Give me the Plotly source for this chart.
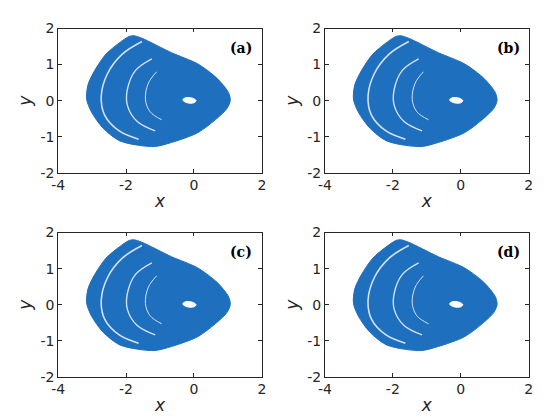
import plotly.graph_objects as go

# attractor outline
bx = [-1.91, -1.77, -1.53, -0.66, 0.11, 0.68, 1.02, 1.07, 0.97, 0.68, 0.11, -0.66, -1.14, -1.63, -2.2, -2.68, -3.02, -3.16, -3.12, -2.92, -2.59, -2.2, -1.91]
by = [1.78, 1.80, 1.73, 1.33, 1.02, 0.62, 0.22, 0.0, -0.22, -0.49, -0.89, -1.16, -1.27, -1.24, -1.11, -0.76, -0.31, 0.04, 0.44, 0.84, 1.29, 1.6, 1.78]
# white gaps (arcs)
a1x = [-1.53, -2.11, -2.54, -2.73, -2.63, -2.2, -1.63]
a1y = [1.64, 1.29, 0.76, 0.13, -0.4, -0.84, -1.07]
a2x = [-1.24, -1.72, -1.96, -1.96, -1.67, -1.14]
a2y = [1.16, 0.84, 0.31, -0.13, -0.58, -0.84]
a3x = [-1.1, -1.34, -1.43, -1.29, -0.95]
a3y = [0.8, 0.49, 0.04, -0.31, -0.53]
hx = [-0.33, -0.25, -0.05, 0.06, 0.0, -0.2, -0.33]
hy = [0.02, 0.08, 0.07, 0.0, -0.06, -0.06, 0.02]
labels = ["(a)", "(b)", "(c)", "(d)"]
xticks = [-4, -2, 0, 2]
xticktext = ["-4", "-2", "0", "2"]
yticks = [-2, -1, 0, 1, 2]
yticktext = ["-2", "-1", "0", "1", "2"]

xdoms = [[0.08, 0.458], [0.575, 0.953]]
ydoms = [[0.612, 0.969], [0.107, 0.464]]
blue = "#1F6FBF"

fig = go.Figure()
for i in range(4):
    r, c = divmod(i, 2)
    n = "" if i == 0 else str(i + 1)
    xa, ya = "x" + n, "y" + n
    fig.add_trace(go.Scatter(x=bx, y=by, fill="toself", fillcolor=blue, mode="lines",
                             line=dict(color=blue, width=1, shape="spline", smoothing=0.8),
                             xaxis=xa, yaxis=ya, showlegend=False))
    for ax_, ay_, w in [(a1x, a1y, 1.6), (a2x, a2y, 1.4), (a3x, a3y, 1.0)]:
        fig.add_trace(go.Scatter(x=ax_, y=ay_, mode="lines", line=dict(color="white", width=w, shape="spline"),
                                 opacity=0.8, xaxis=xa, yaxis=ya, showlegend=False))
    fig.add_trace(go.Scatter(x=hx, y=hy, fill="toself", fillcolor="white", mode="lines",
                             line=dict(color="white", width=1, shape="spline"), xaxis=xa, yaxis=ya, showlegend=False))
    common = dict(showline=True, mirror="ticks", linecolor="#262626", linewidth=0.8, ticks="inside",
                  ticklen=4, tickcolor="#262626", showgrid=False, zeroline=False,
                  tickfont=dict(family="DejaVu Sans", size=14, color="#262626"))
    fig.update_layout(**{
        ("xaxis" + n): dict(domain=xdoms[c], range=[-4, 2], tickvals=xticks, ticktext=xticktext, anchor=ya,
                            title=dict(text="<i>x</i>", standoff=2, font=dict(family="DejaVu Sans", size=17, color="#262626")), **common),
        ("yaxis" + n): dict(domain=ydoms[r], range=[-2, 2], tickvals=yticks, ticktext=yticktext, anchor=xa,
                            title=dict(text="<i>y</i>", standoff=4, font=dict(family="DejaVu Sans", size=17, color="#262626")), **common),
    })
    fig.add_annotation(x=1.4, y=1.45, xref=xa, yref=ya, text="<b>" + labels[i] + "</b>", showarrow=False,
                       font=dict(family="DejaVu Serif", size=14, color="black"))

fig.update_layout(width=550, height=420, margin=dict(l=0, r=0, t=0, b=0),
                  plot_bgcolor="white", paper_bgcolor="white")
fig.write_html("out.html")
